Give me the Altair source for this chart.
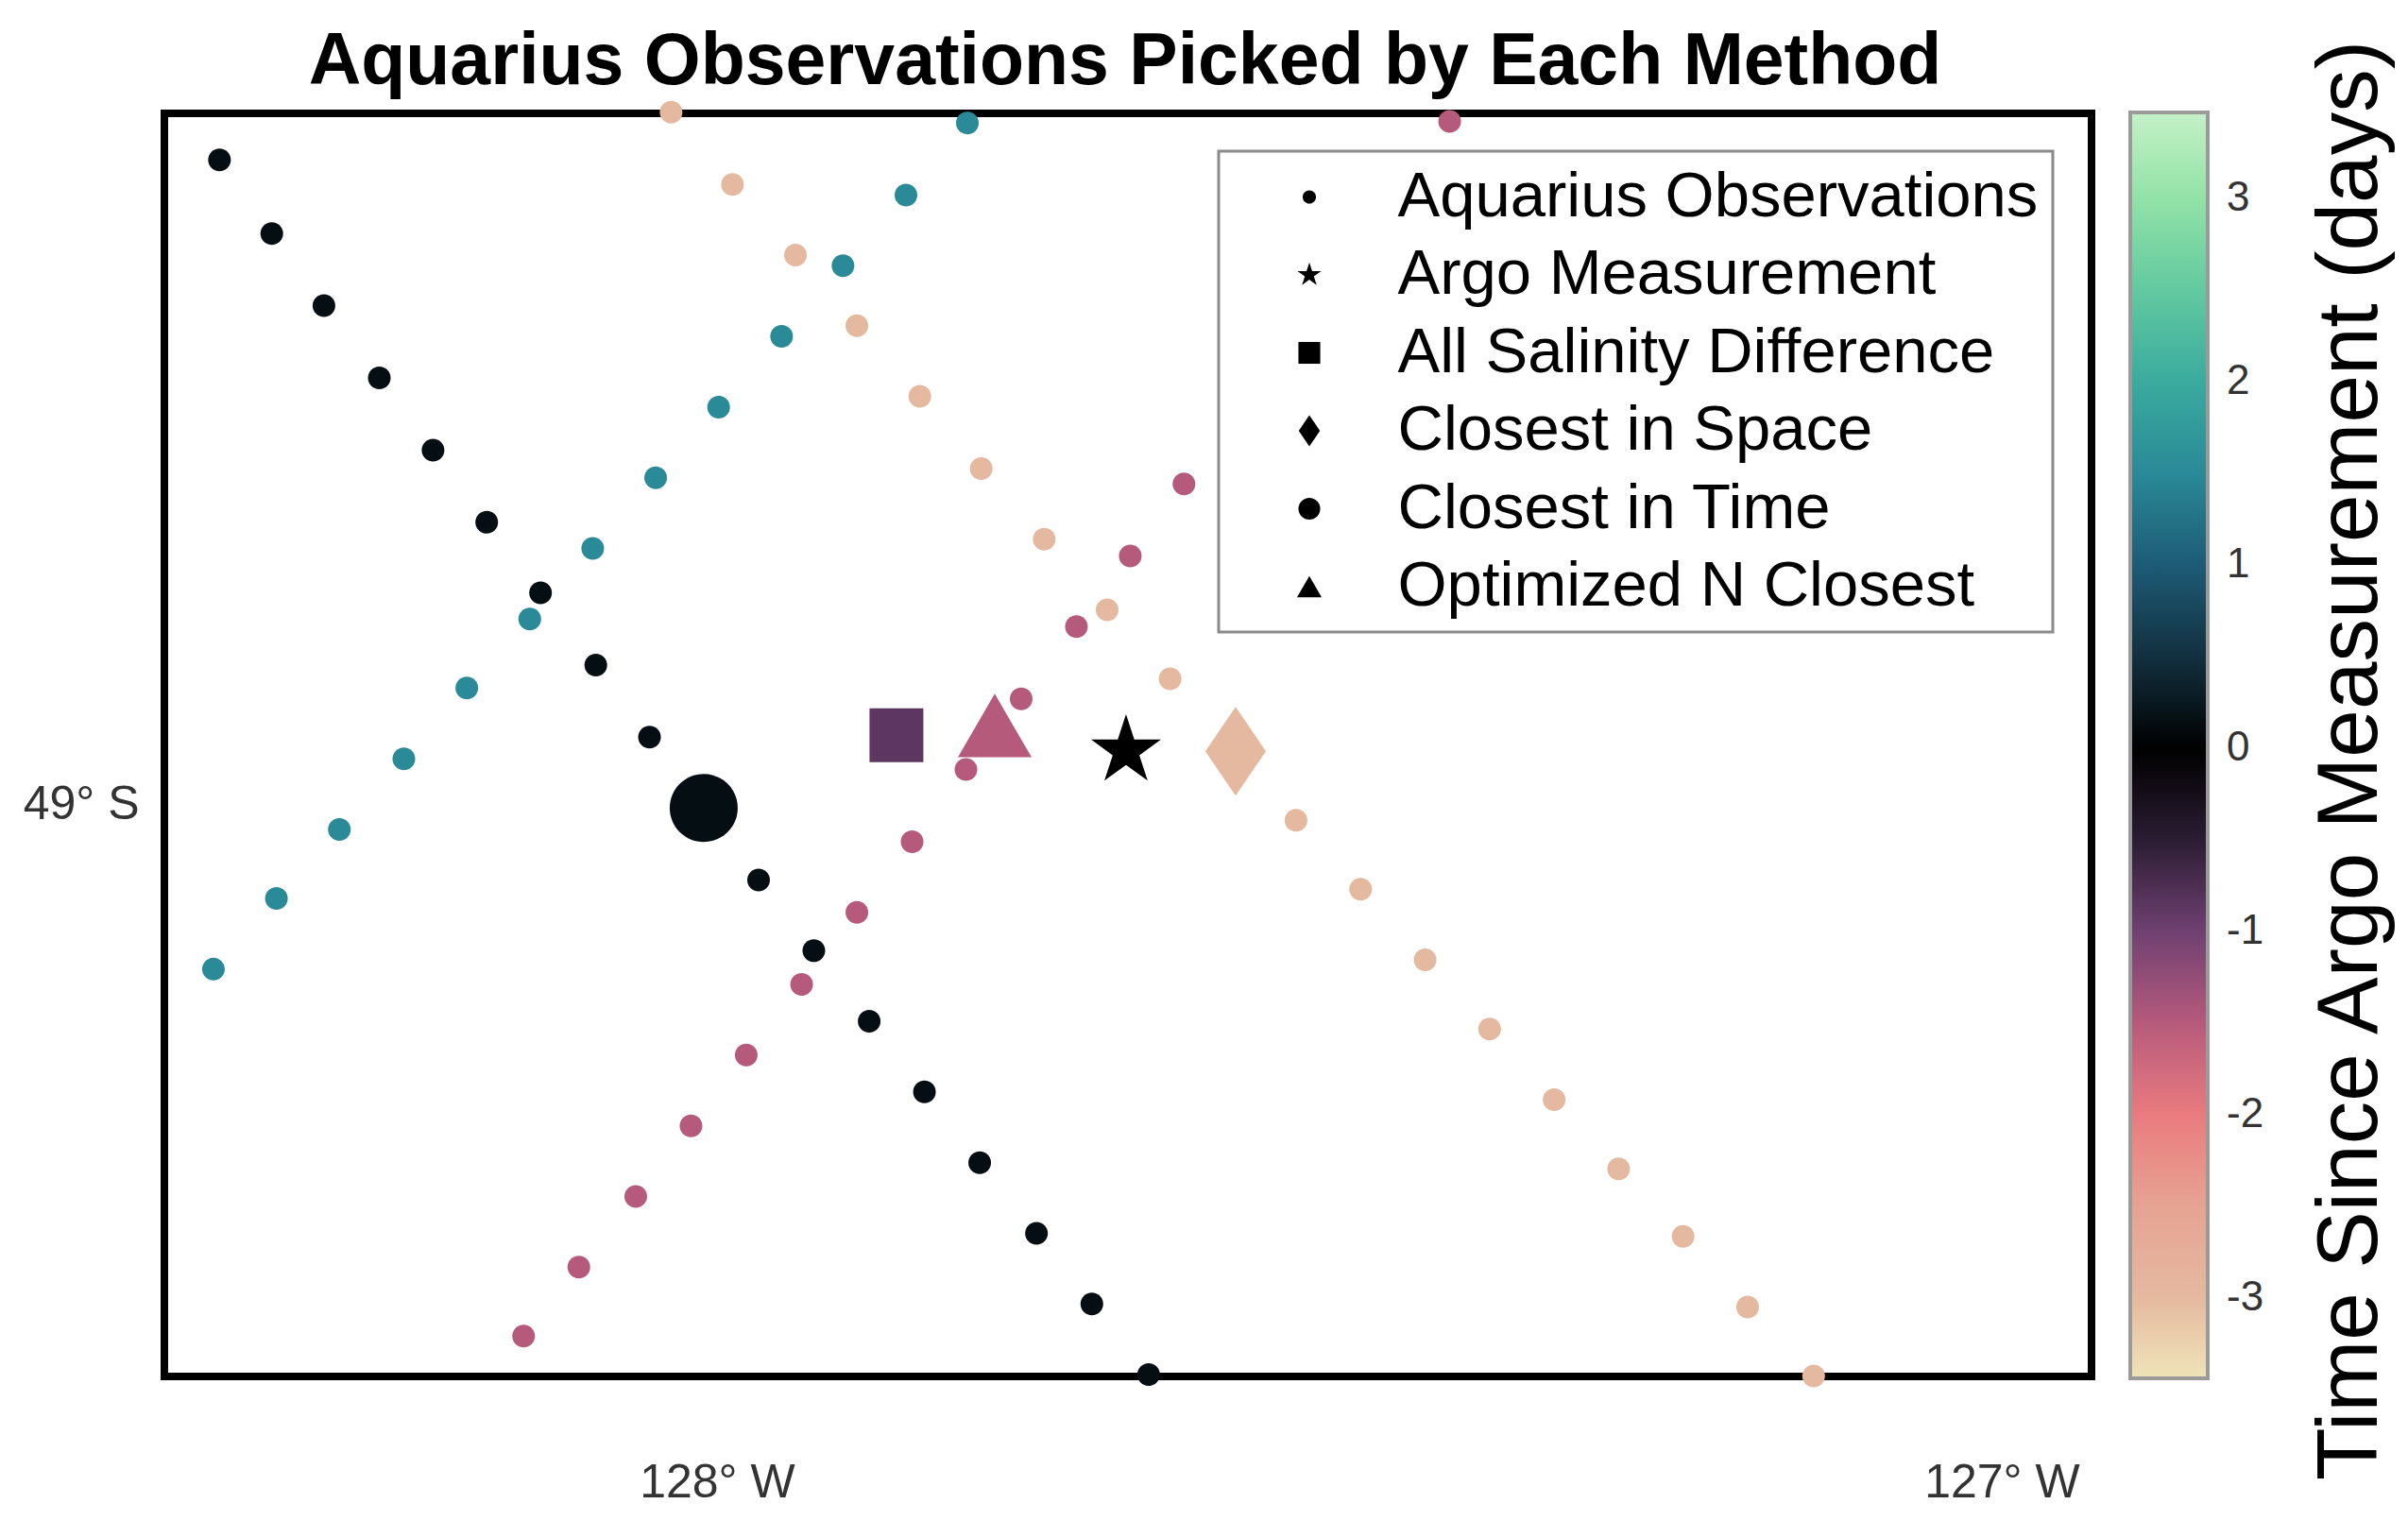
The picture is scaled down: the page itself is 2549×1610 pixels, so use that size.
import altair as alt
import pandas as pd

# ---------------- data (longitude degE, latitude degN, time offset in days) -------------
track_a_lon = [-128.3872, -128.3465, -128.3059, -128.2628, -128.2210, -128.1792, -128.1373,
               -128.0943, -128.0525, -128.0094, -127.9676, -127.9246, -127.8815, -127.8385,
               -127.7955, -127.7513, -127.7082, -127.6640]
track_a_lat = [-48.6644, -48.7028, -48.7404, -48.7780, -48.8156, -48.8532, -48.8900,
               -48.9276, -48.9652, -49.0020, -49.0396, -49.0764, -49.1132, -49.1500,
               -49.1868, -49.2236, -49.2604, -49.2972]
track_a_t = 0.15

track_b_lon = [-128.3919, -128.3429, -128.2939, -128.2437, -128.1947, -128.1457, -128.0967,
               -128.0477, -127.9987, -127.9497, -127.9019, -127.8529, -127.8051]
track_b_lat = [-49.0860, -49.0492, -49.0132, -48.9764, -48.9396, -48.9036, -48.8668,
               -48.8300, -48.7932, -48.7564, -48.7196, -48.6828, -48.6452]
track_b_t = 1.5

track_c_lon = [-128.1505, -128.1075, -128.0632, -128.0202, -127.9772, -127.9341, -127.8911,
               -127.8481, -127.8062, -127.7632, -127.7202, -127.6783, -127.6365, -127.5935,
               -127.5504, -127.5074, -127.4668, -127.4297]
track_c_lat = [-49.2772, -49.2412, -49.2044, -49.1676, -49.1308, -49.0940, -49.0564,
               -49.0196, -48.9820, -48.9452, -48.9076, -48.8708, -48.8332, -48.7964,
               -48.7596, -48.7228, -48.6852, -48.6444]
track_c_t = -1.5

track_d_lon = [-128.0357, -127.9879, -127.9389, -127.8911, -127.8421, -127.7943, -127.7453,
               -127.6963, -127.6473, -127.5983, -127.5493, -127.4990, -127.4488, -127.3986,
               -127.3484, -127.2982, -127.2480, -127.1978, -127.1464]
track_d_lat = [-48.6396, -48.6772, -48.7140, -48.7508, -48.7876, -48.8252, -48.8620,
               -48.8988, -48.9348, -48.9716, -49.0084, -49.0444, -49.0812, -49.1172,
               -49.1540, -49.1900, -49.2252, -49.2620, -49.2980]
track_d_t = -3.0

method_names = ["All Salinity Difference", "Optimized N Closest", "Argo Measurement",
                "Closest in Space", "Closest in Time"]
method_lon = [-127.8603, -127.7838, -127.6816, -127.5963, -128.0103]
method_lat = [-48.9641, -48.9591, -48.9723, -48.9725, -49.0020]
method_t = [-0.87, -1.5, 0.0, -3.0, 0.15]

legend_order = ["Aquarius Observations", "Argo Measurement", "All Salinity Difference",
                "Closest in Space", "Closest in Time", "Optimized N Closest"]

lon_ticks = [-128, -127]
lat_ticks = [-49]

cbar_values = [-3.44, -3.0, -2.5, -2.0, -1.5, -1.0, -0.5, 0.0, 0.5, 1.0, 1.5, 2.0, 2.5, 3.0, 3.47]
cbar_ticks = [-3, -2, -1, 0, 1, 2, 3]
cbar_title = "Time Since Argo Measurement (days)"
chart_title = "Aquarius Observations Picked by Each Method"

# ---------------- styles ----------------
cbar_colors = ["#efe4b8", "#e5b99f", "#e6a392", "#ea7b7e", "#b65a7c", "#6f4171", "#2b1c33",
               "#000000", "#12303f", "#1d5b76", "#2a8a97", "#3aab9e", "#62c9a0", "#92e2a6",
               "#c4f1c6"]

shape_paths = {
    "Aquarius Observations": "M0.47,0A0.47,0.47,0,1,1,-0.47,0A0.47,0.47,0,1,1,0.47,0Z",
    "Argo Measurement": "M0,-0.88L0.1976,-0.2719L0.8369,-0.2719L0.3194,0.1038L0.5174,0.7119"
                        "L0,0.3362L-0.5174,0.7119L-0.3194,0.1038L-0.8369,-0.2719L-0.1976,-0.2719Z",
    "All Salinity Difference": "M-0.77,-0.77L0.77,-0.77L0.77,0.77L-0.77,0.77Z",
    "Closest in Space": "M0,-1.1L0.75,0L0,1.1L-0.75,0Z",
    "Closest in Time": "M0.77,0A0.77,0.77,0,1,1,-0.77,0A0.77,0.77,0,1,1,0.77,0Z",
    "Optimized N Closest": "M0,-0.75L0.87,0.75L-0.87,0.75Z",
}
marker_size = {
    "Aquarius Observations": 2607,
    "Argo Measurement": 7817,
    "All Salinity Difference": 5480,
    "Closest in Space": 7302,
    "Closest in Time": 8743,
    "Optimized N Closest": 8040,
}

FONT = "Liberation Sans"
CBAR_X = 2081        # colorbar left edge, px from plot origin
CBAR_W = 82          # colorbar thickness

# ---------------- build table ----------------
rows = []
for lons, lats, t in [(track_a_lon, track_a_lat, track_a_t),
                      (track_b_lon, track_b_lat, track_b_t),
                      (track_c_lon, track_c_lat, track_c_t),
                      (track_d_lon, track_d_lat, track_d_t)]:
    for lo, la in zip(lons, lats):
        rows.append({"lon": lo, "lat": la, "t": t, "method": "Aquarius Observations"})
for name, lo, la, t in zip(method_names, method_lon, method_lat, method_t):
    rows.append({"lon": lo, "lat": la, "t": t, "method": name})
df = pd.DataFrame(rows)
df["sz"] = df["method"].map(marker_size)

points = alt.Chart(df).mark_point(filled=True, opacity=1, strokeWidth=0, color="black").encode(
    x=alt.X("lon:Q",
            scale=alt.Scale(domain=[-128.4301, -126.9301], nice=False, zero=False),
            axis=alt.Axis(values=lon_ticks, labelExpr="abs(datum.value) + '° W'", title=None,
                          domain=False, ticks=False, grid=False, labelFont=FONT,
                          labelFontSize=50, labelColor="#333333", labelPadding=112,
                          labelBaseline="middle", labelFlush=False)),
    y=alt.Y("lat:Q",
            scale=alt.Scale(domain=[-49.2982, -48.6402], nice=False, zero=False),
            axis=alt.Axis(values=lat_ticks, labelExpr="abs(datum.value) + '° S'", title=None,
                          domain=False, ticks=False, grid=False, labelFont=FONT,
                          labelFontSize=50, labelColor="#333333", labelPadding=27,
                          labelBaseline="middle")),
    color=alt.Color("t:Q",
                    scale=alt.Scale(domain=cbar_values, range=cbar_colors, interpolate="rgb"),
                    legend=alt.Legend(
                        orient="none", legendX=CBAR_X, legendY=-1, direction="vertical",
                        gradientLength=1340, gradientThickness=CBAR_W,
                        gradientStrokeColor="#9a9a9a", gradientStrokeWidth=4,
                        values=cbar_ticks, format="d",
                        labelExpr="replace(datum.label, '\u2212', '-')",
                        labelFont=FONT, labelFontSize=44, labelColor="#333333",
                        labelOffset=20, title=None, padding=0)),
    shape=alt.Shape("method:N",
                    scale=alt.Scale(domain=legend_order,
                                    range=[shape_paths[m] for m in legend_order]),
                    legend=alt.Legend(
                        orient="none", legendX=1116, legendY=40, title=None,
                        fillColor="white", strokeColor="#8a8a8a",
                        padding=15, rowPadding=14.5,
                        labelFont=FONT, labelFontSize=67, labelColor="black",
                        labelLimit=3000, labelOffset=60, symbolOffset=47.5,
                        symbolSize=900, symbolStrokeWidth=0,
                        symbolFillColor="black")),
    size=alt.Size("sz:Q", scale=None, legend=None),
)

# small tick marks on the inner right edge of the colorbar
cbar_tick_marks = alt.Chart(pd.DataFrame({"v": cbar_ticks})).mark_rule(
    color="#1a1a1a", opacity=0.45, strokeWidth=4
).encode(
    y=alt.Y("v:Q", scale=alt.Scale(domain=[-3.44, 3.47], range=[1339, -1], nice=False,
                                   zero=False), axis=None),
    x=alt.value(CBAR_X + CBAR_W - 16), x2=alt.value(CBAR_X + CBAR_W - 2),
)

cbar_label = alt.Chart(pd.DataFrame({"label": [cbar_title]})).mark_text(
    angle=270, align="center", baseline="middle", font=FONT, fontSize=91, color="black"
).encode(x=alt.value(2315), y=alt.value(685), text="label:N")

title_text = alt.Chart(pd.DataFrame({"label": [chart_title]})).mark_text(
    align="center", baseline="alphabetic", font=FONT, fontSize=77, fontWeight="bold",
    color="black"
).encode(x=alt.value(1017), y=alt.value(-31), text="label:N")

chart = alt.layer(points, cbar_tick_marks, cbar_label, title_text).resolve_scale(
    y="independent"
).properties(
    width=2040, height=1337,
    autosize=alt.AutoSizeParams(type="none"),
    padding={"left": 166, "top": 112, "right": 326, "bottom": 140},
    background="white",
).configure_view(stroke="black", strokeWidth=8, fill="white").configure_legend(strokeWidth=3)

chart.save("out.html", embed_options={"renderer": "svg", "actions": False})
